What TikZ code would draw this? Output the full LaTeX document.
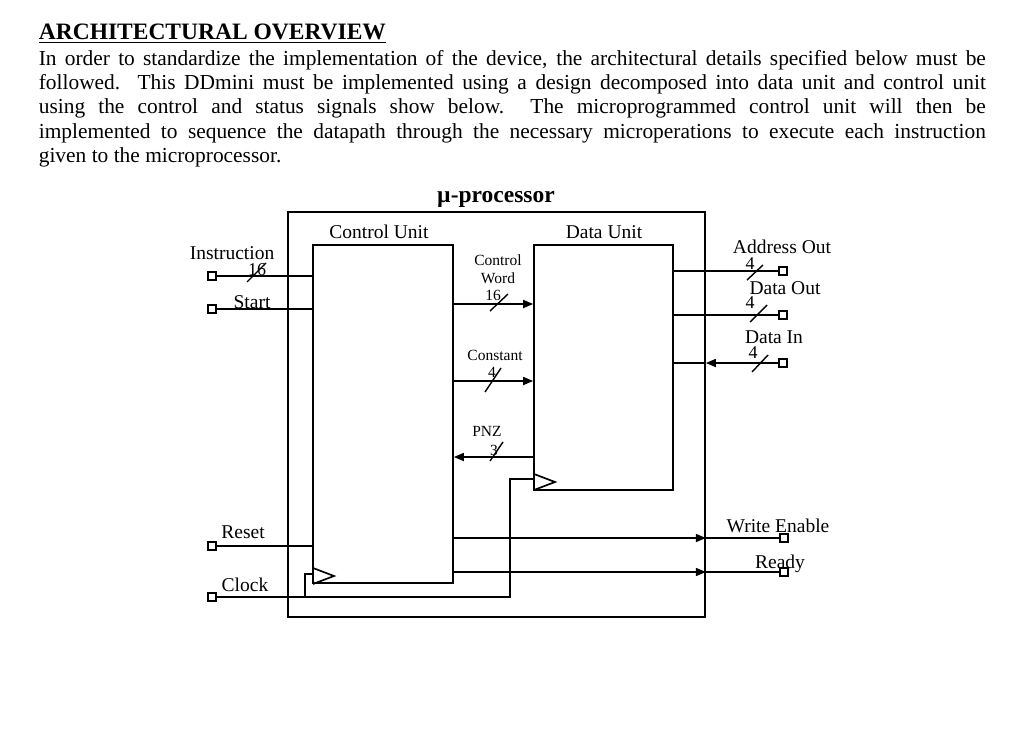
\documentclass[tikz,border=0pt]{standalone}
\usepackage{fontspec}
\setmainfont{Liberation Serif}
\usetikzlibrary{arrows.meta}

\begin{document}
\begin{tikzpicture}
  [x=1pt, y=-1pt, line width=1.7pt,
    >={Triangle[length=10pt,width=8pt]},
    unit/.style={%
      rectangle, draw, inner sep=0pt
    },
    term/.style={%
      rectangle, draw, fill=white, line width=1.5pt,
      minimum size=8pt, inner sep=0pt
    },
    lbl/.style={%
      font=\fontsize{19.5}{22}\selectfont, inner sep=0pt, anchor=base
    },
    width/.style={%
      font=\fontsize{18}{20}\selectfont, inner sep=0pt, anchor=base
    },
    note/.style={%
      font=\fontsize{15.5}{17}\selectfont, inner sep=0pt, anchor=base
    },
    bus/.style={line width=1.4pt},
    line/.style={%
      anchor=base west, inner sep=0pt, font=\fontsize{21.4}{24.5}\selectfont
    },
  ]
  \useasboundingbox (0,0) rectangle (1024,746);

  % header and paragraph
  \node[anchor=base west, inner sep=0pt, font=\fontsize{23.5}{26}\selectfont\bfseries]
    (title) at (38,40) {\underline{ARCHITECTURAL OVERVIEW}};
  \node[line] (p1) at (38,66) {\makebox[947pt][s]{In order to standardize the implementation of the device, the architectural details specified below must be}};
  \node[line] (p2) at (38,90) {\makebox[947pt][s]{followed.\ \ This DDmini must be implemented using a design decomposed into data unit and control unit}};
  \node[line] (p3) at (38,114) {\makebox[947pt][s]{using the control and status signals show below.\ \ The microprogrammed control unit will then be}};
  \node[line] (p4) at (38,139) {\makebox[947pt][s]{implemented to sequence the datapath through the necessary microperations to execute each instruction}};
  \node[line] (p5) at (38,163) {given to the microprocessor.};

  % boxes
  \node[unit, minimum width=417pt, minimum height=405pt] (up) at (496.5,414.5) {};
  \node[unit, minimum width=140pt, minimum height=338pt] (cu) at (383,414) {};
  \node[unit, minimum width=139pt, minimum height=245pt] (du) at (603.5,367.5) {};
  \node[anchor=base, inner sep=0pt, font=\fontsize{23.5}{26}\selectfont\bfseries]
    (lup) at (496,202) {µ-processor};
  \node[lbl] (lcu) at (379,238) {Control Unit};
  \node[lbl] (ldu) at (604,238) {Data Unit};

  % terminals
  \node[term] (tins) at (212,276) {};
  \node[term] (tstart) at (212,309) {};
  \node[term] (treset) at (212,546) {};
  \node[term] (tclk) at (212,597) {};
  \node[term] (tao) at (783,271) {};
  \node[term] (tdo) at (783,315) {};
  \node[term] (tdi) at (783,363) {};
  \node[term] (twe) at (784,538) {};
  \node[term] (trdy) at (784,572) {};

  % bus points
  \coordinate (bins) at (256,276);
  \coordinate (bcw) at (499,304);
  \coordinate (bk) at (493,381);
  \coordinate (bpnz) at (496,457);
  \coordinate (bao) at (755,271);
  \coordinate (bdo) at (758,315);
  \coordinate (bdi) at (760,363);

  % inputs
  \draw (tins) -- (tins -| cu.west);
  \draw (tstart) -- (tstart -| cu.west);
  \draw (treset) -- (treset -| cu.west);
  \coordinate (cuclk) at (313,574);
  \coordinate (duclk) at (534,479);
  \coordinate (split) at (305,597);
  \coordinate (turn) at (510,597);
  \draw (tclk) -- (turn) |- (duclk);
  \draw (split) |- (cuclk);
  \draw (313,568) -- (334,576) -- (313,584);
  \draw (534,474) -- (555,482) -- (534,490);

  % between the units
  \draw[->] (bcw -| cu.east) -- (bcw -| du.west);
  \draw[->] (bk -| cu.east) -- (bk -| du.west);
  \draw[->] (bpnz -| du.west) -- (bpnz -| cu.east);

  % outputs
  \draw (tao -| du.east) -- (tao);
  \draw (tdo -| du.east) -- (tdo);
  \draw[->] (tdi) -- (tdi -| up.east);
  \draw (tdi -| up.east) -- (tdi -| du.east);
  \draw[->] (twe -| cu.east) -- (twe -| up.east);
  \draw (twe -| up.east) -- (twe);
  \draw[->] (trdy -| cu.east) -- (trdy -| up.east);
  \draw (trdy -| up.east) -- (trdy);

  % bus widths
  \draw[bus] (bins) ++(-9,6) -- ++(19,-19);
  \draw[bus] (bcw) ++(-9,7) -- ++(18,-17);
  \draw[bus] (bk) ++(-8,11) -- ++(16,-24);
  \draw[bus] (bpnz) ++(-6,4) -- ++(13,-19);
  \draw[bus] (bao) ++(-8,9) -- ++(16,-15);
  \draw[bus] (bdo) ++(-8,7) -- ++(17,-17);
  \draw[bus] (bdi) ++(-8,9) -- ++(16,-17);

  % labels
  \node[lbl] (lins) at (232,259) {Instruction};
  \node[width] (wins) at (257,275) {16};
  \node[lbl] (lstart) at (252,308) {Start};
  \node[lbl] (lreset) at (243,538) {Reset};
  \node[lbl] (lclk) at (245,591) {Clock};
  \node[note] (lcw) at (498,265) {Control};
  \node[note] (lword) at (498,283) {Word};
  \node[note] (wcw) at (493,300) {16};
  \node[note] (lk) at (495,360) {Constant};
  \node[note] (wk) at (492,377) {4};
  \node[note] (lpnz) at (487,436) {PNZ};
  \node[note] (wpnz) at (494,455) {3};
  \node[lbl] (lao) at (782,253) {Address Out};
  \node[width] (wao) at (750,269) {4};
  \node[lbl] (ldo) at (785,294) {Data Out};
  \node[width] (wdo) at (750,308) {4};
  \node[lbl] (ldi) at (774,343) {Data In};
  \node[width] (wdi) at (753,358) {4};
  \node[lbl] (lwe) at (778,532) {Write Enable};
  \node[lbl] (lrdy) at (780,568) {Ready};
\end{tikzpicture}
\end{document}
